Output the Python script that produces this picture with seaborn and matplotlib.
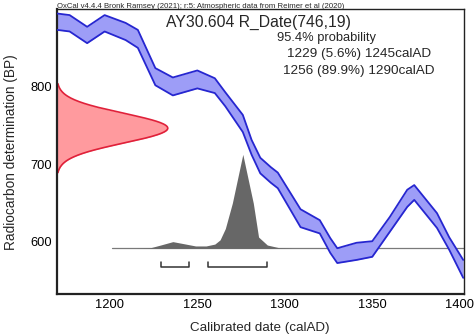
import numpy as np
import pandas as pd
import matplotlib
matplotlib.use("Agg")
import matplotlib.pyplot as plt
from matplotlib.ticker import MultipleLocator
import seaborn as sns

# Calibration curve (IntCal20 segment): calendar year, mean BP, 1-sigma
cal_years = [1170, 1177, 1187, 1197, 1209, 1216, 1226, 1236, 1250, 1260, 1266,
             1276, 1281, 1286, 1292, 1296, 1309, 1320, 1326, 1330, 1341, 1350,
             1360, 1370, 1374, 1387, 1394, 1402]
cal_bp = [882.5, 880.5, 865.5, 880.5, 870, 860.5, 812, 799.5, 808.5, 800.5, 783,
          752, 721.5, 698, 686, 679, 630.5, 619.5, 595.5, 582.5, 588, 591,
          622.5, 656, 663.5, 627.5, 598, 565.5]
cal_sigma = [10.5, 10.5, 10.5, 10.5, 11, 11.5, 11, 11.5, 11.5, 9.5, 9,
             11, 9.5, 10, 10, 10, 11.5, 8.5, 9.5, 9.5, 11, 10,
             9.5, 11, 9.5, 9.5, 8, 11.5]

# Radiocarbon measurement
sample_name = "AY30.604"
r_mean, r_sigma = 746, 19

# Calibrated probability (relative) against calendar year
post_years = [1215, 1223, 1229, 1236, 1242, 1249, 1255, 1260, 1263, 1266, 1270,
              1276, 1282, 1285, 1290, 1297, 1305]
post_prob = [0, 0.005, 0.035, 0.071, 0.05, 0.025, 0.025, 0.045, 0.09, 0.21, 0.48,
             1.0, 0.48, 0.12, 0.035, 0.005, 0]

# 95.4% ranges
range_starts = [1229, 1256]
range_ends = [1245, 1290]
range_pcts = [5.6, 89.9]

header = "OxCal v4.4.4 Bronk Ramsey (2021); r:5: Atmospheric data from Reimer et al (2020)"

sns.set_style("white")
plt.rcParams["font.family"] = ["Liberation Sans", "DejaVu Sans"]

fig = plt.figure(figsize=(4.74, 3.36), dpi=100)
ax = fig.add_axes([0.1196, 0.125, 0.8584, 0.847])

xmin, xmax = 1169.6, 1402.2
ymin, ymax = 533.3, 898.3

# Calibration curve band
curve = pd.DataFrame({"year": cal_years, "bp": cal_bp, "sd": cal_sigma})
curve["hi"] = curve["bp"] + curve["sd"]
curve["lo"] = curve["bp"] - curve["sd"]
ax.fill_between(curve["year"], curve["lo"], curve["hi"], color="#9d9df7", lw=0, zorder=2)
for col in ("hi", "lo"):
    sns.lineplot(data=curve, x="year", y=col, ax=ax, color="#2626d0", lw=1.3,
                 zorder=3, solid_joinstyle="round")

# Radiocarbon determination as a normal curve on the BP axis
bp_grid = np.linspace(r_mean - 3 * r_sigma, r_mean + 3 * r_sigma, 200)
dens = np.exp(-0.5 * ((bp_grid - r_mean) / r_sigma) ** 2)
r_width = 63.5
ax.fill_betweenx(bp_grid, xmin, xmin + dens * r_width, color="#ff9a9e", lw=0, zorder=1)
ax.plot(xmin + dens * r_width, bp_grid, color="#e0213a", lw=1.2, zorder=1.5)

# Calibrated distribution on the calendar axis
base_bp = 591.9
post_height = 120.5
post = pd.DataFrame({"year": post_years, "p": post_prob})
ax.axhline(base_bp, xmin=(1201 - xmin) / (xmax - xmin), xmax=1, color="#7a7a7a", lw=0.9, zorder=1)
ax.fill_between(post["year"], base_bp, base_bp + post["p"] * post_height,
                color="#676767", lw=0, zorder=1.2)

# Range brackets
br_y = base_bp - 23.6
br_h = 6.4
for s, e in zip(range_starts, range_ends):
    ax.plot([s, s, e, e], [br_y + br_h, br_y, br_y, br_y + br_h],
            color="#333333", lw=1.1, zorder=2)

ax.set_xlim(xmin, xmax)
ax.set_ylim(ymin, ymax)
ax.xaxis.set_major_locator(MultipleLocator(50))
ax.xaxis.set_minor_locator(MultipleLocator(5))
ax.yaxis.set_major_locator(MultipleLocator(100))
ax.yaxis.set_minor_locator(MultipleLocator(20))
ax.tick_params(which="both", direction="in", top=False, right=False,
               colors="#222222", labelsize=9.3, labelcolor="black")
ax.tick_params(which="major", length=5, width=1.1, pad=3.3)
ax.tick_params(which="minor", length=3, width=0.9)
for sp in ax.spines.values():
    sp.set_color("#222222")
    sp.set_linewidth(1.0)
ax.spines["left"].set_linewidth(1.6)
ax.spines["bottom"].set_linewidth(1.6)

ax.set_xlabel("Calibrated date (calAD)", fontsize=9.6, labelpad=8)
ax.set_ylabel("Radiocarbon determination (BP)", fontsize=9.8, labelpad=9)

# Annotation text
fig.text(57 / 474, 1 - 8.5 / 336, header, fontsize=5.6, ha="left", va="baseline")
fig.text(166 / 474, 1 - 22 / 336, f"{sample_name} R_Date({r_mean},{r_sigma})",
         fontsize=11.3, ha="left", va="center")
fig.text(277 / 474, 1 - 38 / 336, "95.4% probability", fontsize=9.3, ha="left", va="center")
ys = [54, 71]
xs = [287, 283]
for s, e, p, yy, xx in zip(range_starts, range_ends, range_pcts, ys, xs):
    fig.text(xx / 474, 1 - yy / 336, f"{s} ({p}%) {e}calAD", fontsize=9.7,
             ha="left", va="center")

fig.savefig("out.png", dpi=100)
